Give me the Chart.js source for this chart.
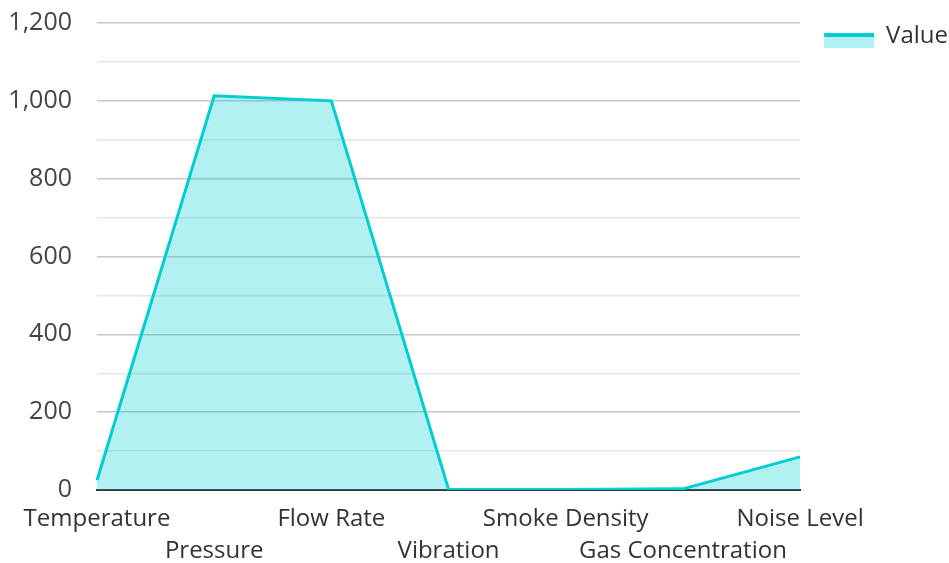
<!DOCTYPE html>
<html>
<head>
<meta charset="utf-8">
<script src="https://cdn.jsdelivr.net/npm/chart.js@4/dist/chart.umd.min.js"></script>
<style>
  html, body { margin: 0; padding: 0; background: #fff; }
  #wrap { width: 949px; height: 563px; position: relative; }
</style>
</head>
<body>
<div id="wrap"><canvas id="sensor"></canvas></div>
<script>
(function () {
  'use strict';

  const categories = ['Temperature', 'Pressure', 'Flow Rate', 'Vibration', 'Smoke Density', 'Gas Concentration', 'Noise Level'];
  const values = [25, 1013, 1000, 2, 1, 3, 85];
  const seriesName = 'Value';

  const LINE = '#00CED1';
  const FILL = 'rgba(0, 206, 209, 0.3)';

  // legend icon: thick line on top of a filled block, with a blank margin on the left
  function legendIcon() {
    const c = document.createElement('canvas');
    c.width = 73;
    c.height = 24;
    const g = c.getContext('2d');
    g.fillStyle = FILL;
    g.fillRect(23, 12, 50, 12);
    g.fillStyle = LINE;
    g.fillRect(23, 9, 50, 4);
    return c;
  }

  Chart.defaults.font.family = '"Open Sans", "Noto Sans", sans-serif';
  Chart.defaults.color = '#333';

  const ctx = document.getElementById('sensor').getContext('2d');

  window.sensorChart = new Chart(ctx, {
    type: 'line',
    data: {
      labels: categories,
      datasets: [{
        label: seriesName,
        data: values,
        borderColor: LINE,
        backgroundColor: FILL,
        borderWidth: 3,
        fill: 'origin',
        tension: 0,
        pointRadius: 0,
        pointHoverRadius: 0
      }]
    },
    options: {
      responsive: true,
      maintainAspectRatio: false,
      animation: false,
      layout: { padding: { top: 23, left: 10, bottom: 0, right: -9 } },
      plugins: {
        tooltip: { enabled: false },
        legend: {
          position: 'right',
          align: 'start',
          labels: {
            usePointStyle: true,
            pointStyle: legendIcon(),
            pointStyleWidth: 73,
            boxHeight: 24,
            padding: 1,
            color: '#333',
            font: { size: 24 }
          }
        }
      },
      scales: {
        x: {
          offset: false,
          grid: { display: false, drawTicks: false },
          border: { display: true, color: '#333', width: 2 },
          ticks: {
            autoSkip: false,
            maxRotation: 0,
            padding: 14,
            color: '#333',
            font: { size: 24, lineHeight: 1.3 },
            callback: function (val, i) {
              const name = this.getLabelForValue(val);
              return i % 2 ? ['', name] : [name, ''];
            }
          },
          afterFit: (s) => {
            s.paddingLeft = 0;
            s.paddingRight = 0;
            s.height = 73;
          }
        },
        y: {
          min: 0,
          max: 1200,
          border: { display: false },
          grid: {
            drawTicks: false,
            color: (c) => (c.tick.value % 200 === 0 ? '#c8c8c8' : '#e6e6e6'),
            lineWidth: 1.5
          },
          ticks: {
            stepSize: 100,
            padding: 25,
            color: '#444',
            font: { size: 25 },
            callback: (v) => (v % 200 === 0 ? v.toLocaleString('en-US') : '')
          },
          afterFit: (s) => {
            s.paddingTop = 0;
            s.paddingBottom = 0;
            s.width = 87;
          }
        }
      }
    }
  });
})();
</script>
</body>
</html>
